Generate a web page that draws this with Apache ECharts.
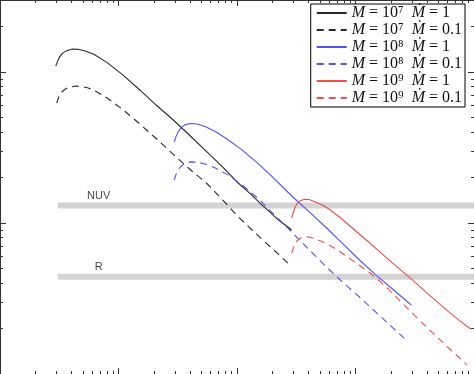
<!DOCTYPE html>
<html>
<head>
<meta charset="utf-8">
<script src="https://cdn.jsdelivr.net/npm/echarts@6/dist/echarts.min.js"></script>
<style>html,body{margin:0;padding:0;background:#fff;}#c{width:474px;height:374px;}</style>
</head>
<body>
<div id="c"></div>
<script>
// ---- axis ticks (log axes, labels are cropped in the reference) ----
const xRange = [1, 10000];
const yRange = [1, 300];
const xMajorTicks = [1, 10, 100, 1000, 10000];
const xMinorTicks = [2,3,4,5,6,7,8,9,20,30,40,50,60,70,80,90,200,300,400,500,600,700,800,900,2000,3000,4000,5000,6000,7000,8000,9000];
const yMajorTicks = [1, 10, 100];
const yMinorTicks = [2,3,4,5,6,7,8,9,20,30,40,50,60,70,80,90,200,300];

// ---- series ----
const seriesMass = ['7', '7', '8', '8', '9', '9'];
const seriesMdot = ['1', '0.1', '1', '0.1', '1', '0.1'];
const m7_mdot1 = [[2.955,109.6],[3.02,114.5],[3.1,120.5],[3.2,126.5],[3.33,131.8],[3.5,136.0],[3.75,139.6],[4.106,142.0],[4.6,141.2],[5.08,139.0],[6.2,131.0],[8.08,115.0],[11,95.0],[15.3,75.5],[21,60.0],[29.0,48.1],[40,38.0],[56.0,29.5],[77,23.2],[100,18.7],[130,15.6],[162,13.2],[220,10.6],[290,8.99]];
const m7_mdot01 = [[3.013,62.3],[3.08,66.0],[3.17,69.7],[3.3,73.2],[3.48,76.3],[3.75,79.0],[4.352,80.8],[4.9,80.1],[5.49,78.6],[6.6,73.8],[8.08,67.0],[11,56.0],[15.3,45.0],[21,36.0],[29.0,28.5],[40,22.7],[56.0,18.2],[77,14.0],[100,11.2],[130,9.2],[165,7.72],[215,6.4],[273,5.35]];
const m8_mdot1 = [[29.55,34.4],[30.5,37.2],[31.8,40.0],[33.6,42.7],[36,44.5],[40.27,45.6],[46,45.3],[53.85,43.6],[65,40.5],[82.4,36.0],[110,30.5],[156.1,24.2],[210,19.4],[295.5,14.87],[410,11.8],[570.5,9.27],[780,7.3],[1080,5.69],[1500,4.5],[2100,3.6],[2955,2.864]];
const m8_mdot01 = [[29.55,19.27],[30.5,20.9],[31.8,22.4],[33.6,23.7],[36,24.7],[40.27,25.4],[46,25.3],[53.85,24.6],[65,23.2],[82.4,21.0],[110,17.9],[156.1,14.2],[210,11.2],[295.5,8.59],[410,6.6],[570.5,5.11],[780,4.05],[1080,3.236],[1500,2.55],[2000,2.07],[2735,1.654]];
const m9_mdot1 = [[290,10.79],[298,11.7],[308,12.6],[320,13.4],[340,14.0],[370,14.35],[405,14.3],[460,13.8],[530,13.1],[604.7,12.3],[750,10.8],[950,9.2],[1311,7.4],[1800,5.95],[2400,4.9],[3013,4.2],[4000,3.45],[5200,2.88],[6408,2.5],[8000,2.18],[9436,1.98]];
const m9_mdot01 = [[290,6.33],[298,6.8],[308,7.25],[320,7.6],[345,7.95],[380,8.1],[418.7,8.05],[480,7.75],[560,7.35],[692,6.7],[900,5.8],[1311,4.7],[1800,3.8],[2483,2.95],[3400,2.3],[4794,1.78],[6500,1.42],[8735,1.15]];
const seriesData = [m7_mdot1, m7_mdot01, m8_mdot1, m8_mdot01, m9_mdot1, m9_mdot01];
const seriesColors = ['#2a2a2a', '#2a2a2a', '#5252ee', '#5252ee', '#ee4d4d', '#ee4d4d'];
const seriesDashed = [false, true, false, true, false, true];

// ---- filter bands ----
const bandNames = ['NUV', 'R'];
const bandLevels = [13.06, 4.4];
const bandFrom = 3.07;
const bandTo = 10000;
const bandLabelX = 6.8;

const sup = {'7':'\u2077','8':'\u2078','9':'\u2079'};
const names = seriesMass.map((m, i) => 'M = 10^' + m + ' Mdot = ' + seriesMdot[i]);

const tickStyle = {color: '#333', width: 1};
function mkAxis(pos, range, ticks, len, showLine) {
  return {
    type: 'log', logBase: 10, min: range[0], max: range[1], position: pos,
    axisLine: {show: showLine, onZero: false, lineStyle: {color: '#333', width: 1}},
    axisTick: {show: true, inside: true, length: len, customValues: ticks, lineStyle: tickStyle},
    axisLabel: {show: false}, splitLine: {show: false}, minorTick: {show: false}
  };
}

const series = [];
bandNames.forEach((b, i) => {
  series.push({
    type: 'line', name: b, silent: true, symbol: 'none', z: 1,
    lineStyle: {color: '#d3d3d3', width: 6},
    data: [[bandFrom, bandLevels[i]], [bandTo, bandLevels[i]]]
  });
  series.push({
    type: 'scatter', name: b + '_label', silent: true, symbolSize: 0, z: 2,
    label: {show: true, position: 'top', distance: 4, formatter: '{b}', color: '#111', fontSize: 11, fontFamily: 'Liberation Sans'},
    data: [{name: b, value: [bandLabelX, bandLevels[i]]}]
  });
});
seriesData.forEach((d, i) => {
  series.push({
    type: 'line', name: names[i], data: d, symbol: 'none', showSymbol: false, z: 3,
    lineStyle: {color: seriesColors[i], width: 1.1, type: seriesDashed[i] ? [7, 5] : 'solid'},
    itemStyle: {color: seriesColors[i]}
  });
});

const chart = echarts.init(document.getElementById('c'), null, {renderer: 'canvas'});
chart.setOption({
  animation: false,
  backgroundColor: '#fff',
  grid: {left: -1, right: -1, top: -1, bottom: -1, containLabel: false},
  xAxis: [
    mkAxis('bottom', xRange, xMajorTicks, 6, true),
    mkAxis('bottom', xRange, xMinorTicks, 3, false),
    mkAxis('top', xRange, xMajorTicks, 6, true),
    mkAxis('top', xRange, xMinorTicks, 3, false)
  ],
  yAxis: [
    mkAxis('left', yRange, yMajorTicks, 6, true),
    mkAxis('left', yRange, yMinorTicks, 3, false),
    mkAxis('right', yRange, yMajorTicks, 6, true),
    mkAxis('right', yRange, yMinorTicks, 3, false)
  ],
  legend: {
    data: names, orient: 'vertical', right: 9, top: 4,
    itemWidth: 30, itemHeight: 10, itemGap: 1,
    padding: [1, 3, 1, 5], borderColor: '#000', borderWidth: 1, backgroundColor: '#fff',
    selectedMode: false,
    itemStyle: {opacity: 0},
    textStyle: {fontFamily: 'Liberation Serif', fontSize: 16, color: '#111', lineHeight: 15,
      rich: {i: {fontStyle: 'italic', fontFamily: 'Liberation Serif', fontSize: 16, color: '#111', lineHeight: 15},
             n: {fontFamily: 'Liberation Serif', fontSize: 16, color: '#111', lineHeight: 15}}},
    formatter: function (name) {
      const i = names.indexOf(name);
      return '{i|M}{n| = 10' + sup[seriesMass[i]] + '  }{i|\u1E40}{n| = ' + seriesMdot[i] + '}';
    }
  },
  series: series
});
</script>
</body>
</html>
